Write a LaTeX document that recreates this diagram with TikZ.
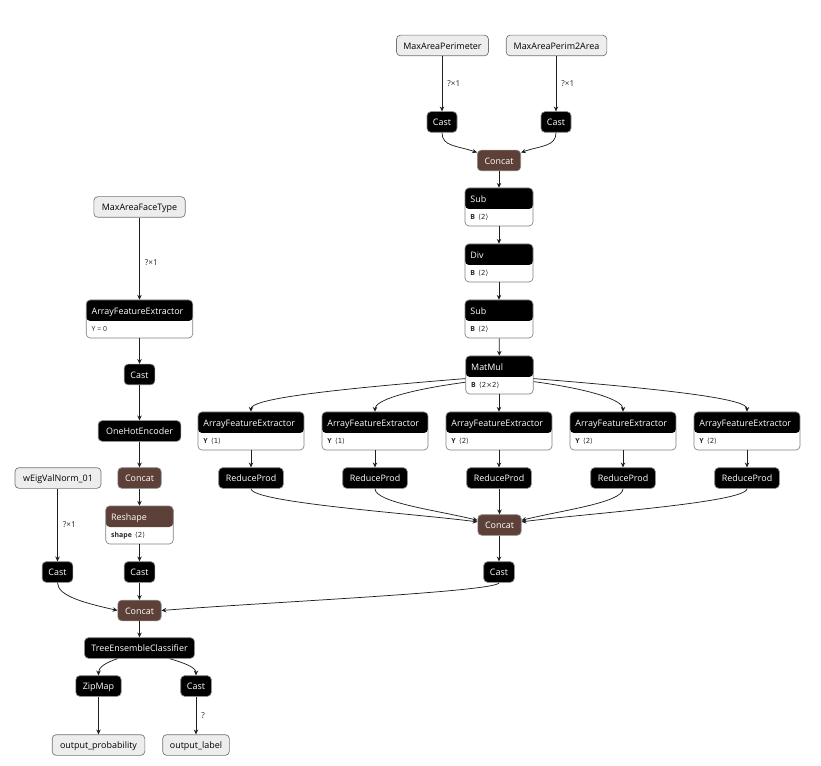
\documentclass[tikz,border=0pt]{standalone}
\usepackage{fontspec}
\setmainfont{Open Sans}
\newfontfamily\dejafont{DejaVu Sans}
\usetikzlibrary{arrows.meta,calc}
\newcommand{\angl}[1]{{\dejafont\fontsize{5.2}{6}\selectfont ⟨#1⟩}}
\newcommand{\attrtxt}[2]{\textbf{#1}\hspace{2.5pt}\angl{#2}}
\tikzset{
  x=0.75pt,y=-0.75pt,
  basebox/.style={rounded corners=3pt,inner sep=0pt,minimum height=15.5pt,line width=0.5pt,text height=6pt,text depth=0.2pt,font=\fontsize{6.7}{8}\selectfont},
  inputbox/.style={basebox,draw=black!55,fill=black!7,text=black},
  opbox/.style={basebox,draw=black!45,fill=black,text=white},
  shapebox/.style={basebox,draw=black!45,fill=shapecol,text=white},
  attrframe/.style={rounded corners=3pt,inner sep=0pt,minimum height=28.5pt,line width=0.5pt,draw=black!50,fill=white},
  headtext/.style={anchor=west,inner sep=0pt,text=white,text height=6pt,text depth=0.2pt,font=\fontsize{6.7}{8}\selectfont},
  attrtext/.style={anchor=west,inner sep=0pt,text=black!85,text height=4pt,text depth=1pt,font=\fontsize{5.2}{6}\selectfont},
  edgelbl/.style={right=3.8pt,inner sep=0pt,text=black!85,font=\fontsize{6.1}{7}\selectfont},
  link/.style={-{Stealth[length=3.6pt,width=3.4pt]},line width=0.55pt,draw=black!88},
}
\definecolor{shapecol}{HTML}{5D4037}
% name, centre x, top y, width, header colour, header, attribute
\newcommand{\attrbox}[7]{%
  \node[attrframe,minimum width=#4*0.75pt,
    path picture={\fill[#5] (path picture bounding box.north west) rectangle ([yshift=-15.75pt]path picture bounding box.north east);}]
    (#1) at (#2,#3+19) {};
  \node[headtext] (#1-h) at ($(#1.west)+(5.5,-8.5)$) {#6};
  \node[attrtext] (#1-a) at ($(#1.west)+(5.5,10.5)$) {#7};
}
\begin{document}
\begin{tikzpicture}
\useasboundingbox (0,0) rectangle (821,766);
% right column
\node[inputbox,minimum width=69pt] (per) at (442.5,45.5) {MaxAreaPerimeter};
\node[inputbox,minimum width=75.5pt] (p2a) at (556.5,45.5) {MaxAreaPerim2Area};
\node[opbox,minimum width=22.5pt] (c1) at (442,122) {Cast};
\node[opbox,minimum width=22.5pt] (c2) at (556,122) {Cast};
\node[shapebox,minimum width=32.5pt] (cc1) at (499,160.5) {Concat};
\attrbox{sub1}{499}{188}{68}{black}{Sub}{\attrtxt{B}{2}}
\attrbox{div}{499}{244}{68}{black}{Div}{\attrtxt{B}{2}}
\attrbox{sub2}{499}{300}{68}{black}{Sub}{\attrtxt{B}{2}}
\attrbox{mm}{499.5}{356}{67.5}{black}{MatMul}{\attrtxt{B}{2×2}}
\attrbox{a1}{251}{412}{106}{black}{ArrayFeatureExtractor}{\attrtxt{Y}{1}}
\attrbox{a2}{375}{412}{106}{black}{ArrayFeatureExtractor}{\attrtxt{Y}{1}}
\attrbox{a3}{499}{412}{106}{black}{ArrayFeatureExtractor}{\attrtxt{Y}{2}}
\attrbox{a4}{623}{412}{106}{black}{ArrayFeatureExtractor}{\attrtxt{Y}{2}}
\attrbox{a5}{747}{412}{106}{black}{ArrayFeatureExtractor}{\attrtxt{Y}{2}}
\node[opbox,minimum width=48.5pt] (r1) at (251,478) {ReduceProd};
\node[opbox,minimum width=48.5pt] (r2) at (375,478) {ReduceProd};
\node[opbox,minimum width=48.5pt] (r3) at (499,478) {ReduceProd};
\node[opbox,minimum width=48.5pt] (r4) at (623,478) {ReduceProd};
\node[opbox,minimum width=48.5pt] (r5) at (747,478) {ReduceProd};
\node[shapebox,minimum width=32.5pt] (cc2) at (499.5,525) {Concat};
\node[opbox,minimum width=23pt] (c3) at (499,572) {Cast};
% left column
\node[inputbox,minimum width=68.5pt] (face) at (139.5,207) {MaxAreaFaceType};
\attrbox{afe}{139.5}{300}{106.5}{black}{ArrayFeatureExtractor}{Y = 0}
\node[opbox,minimum width=23pt] (c4) at (139.5,374.5) {Cast};
\node[opbox,minimum width=62pt] (ohe) at (139.5,431) {OneHotEncoder};
\node[shapebox,minimum width=32.5pt] (cc3) at (139.5,478) {Concat};
\attrbox{resh}{139.5}{506}{67.5}{shapecol}{Reshape}{\attrtxt{shape}{2}}
\node[inputbox,minimum width=64.5pt] (eig) at (58,478) {wEigValNorm\_01};
\node[opbox,minimum width=23pt] (c5) at (57.5,572) {Cast};
\node[opbox,minimum width=23pt] (c6) at (139.5,572) {Cast};
\node[shapebox,minimum width=32.5pt] (cc4) at (139.5,610.5) {Concat};
\node[opbox,minimum width=82.5pt] (tec) at (139.5,648) {TreeEnsembleClassifier};
\node[opbox,minimum width=34pt] (zip) at (98.5,686) {ZipMap};
\node[opbox,minimum width=23pt] (c7) at (196,686) {Cast};
\node[inputbox,minimum width=69.5pt] (prob) at (98.5,745) {output\_probability};
\node[inputbox,minimum width=50pt] (lab) at (196,745) {output\_label};
% connectors
\draw[link] (per.south -| c1) -- node[edgelbl,pos=.5] (l1) {?×1} (c1);
\draw[link] (p2a.south -| c2) -- node[edgelbl,pos=.5] (l2) {?×1} (c2);
\draw[link] (c1.south) .. controls +(0,14) and +(-20,-7) .. (cc1.160);
\draw[link] (c2.south) .. controls +(0,14) and +(20,-7) .. (cc1.20);
\draw[link] (cc1) -- (sub1);
\draw[link] (sub1) -- (div);
\draw[link] (div) -- (sub2);
\draw[link] (sub2) -- (mm);
\draw[link] (mm.186) .. controls +(-150,12) and +(0,-12) .. (a1.north);
\draw[link] (mm.192) .. controls +(-60,8) and +(0,-11) .. (a2.north);
\draw[link] (mm.south -| a3) -- (a3.north);
\draw[link] (mm.349) .. controls +(60,8) and +(0,-11) .. (a4.north);
\draw[link] (mm.354) .. controls +(150,12) and +(0,-12) .. (a5.north);
\draw[link] (a1) -- (r1);
\draw[link] (a2) -- (r2);
\draw[link] (a3) -- (r3);
\draw[link] (a4) -- (r4);
\draw[link] (a5) -- (r5);
\draw[link] (r1.south) .. controls +(0,14) and +(-60,-8) .. (cc2.172);
\draw[link] (r2.south) .. controls +(0,14) and +(-40,-10) .. (cc2.168);
\draw[link] (r3.south -| cc2) -- (cc2);
\draw[link] (r4.south) .. controls +(0,14) and +(40,-10) .. (cc2.12);
\draw[link] (r5.south) .. controls +(0,14) and +(60,-8) .. (cc2.8);
\draw[link] (cc2.south -| c3) -- (c3);
\draw[link] (c3.south) .. controls +(0,9) and +(100,-8) .. (cc4.east);
\draw[link] (face) -- node[edgelbl,pos=.55] (l3) {?×1} (afe);
\draw[link] (afe) -- (c4);
\draw[link] (c4) -- (ohe);
\draw[link] (ohe) -- (cc3);
\draw[link] (cc3) -- (resh);
\draw[link] (resh) -- (c6);
\draw[link] (eig.south -| c5) -- node[edgelbl,pos=.5] (l4) {?×1} (c5);
\draw[link] (c5.south) .. controls +(0,14) and +(-30,-7) .. (cc4.west);
\draw[link] (c6) -- (cc4);
\draw[link] (cc4) -- (tec);
\draw[link] ($(tec.south)+(-22,0)$) .. controls +(-12,4) and +(0,-8) .. (zip.north);
\draw[link] ($(tec.south)+(30,0)$) .. controls +(14,4) and +(0,-8) .. (c7.north);
\draw[link] (zip) -- (prob);
\draw[link] (c7) -- node[edgelbl,pos=.5] (l5) {?} (lab);
\end{tikzpicture}
\end{document}
